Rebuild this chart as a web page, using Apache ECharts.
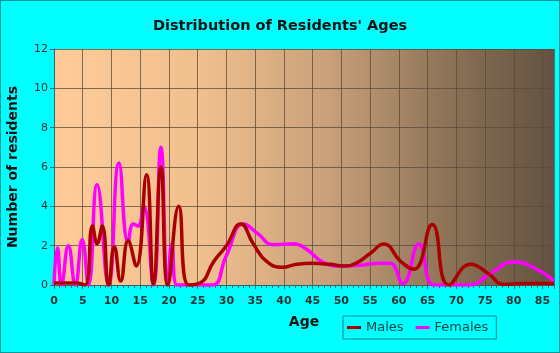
<!DOCTYPE html>
<html>
<head>
<meta charset="utf-8">
<script src="https://cdn.jsdelivr.net/npm/echarts@6/dist/echarts.min.js"></script>
<style>
  html, body { margin: 0; padding: 0; background: #00ffff; }
  #main { width: 558px; height: 351px; border: 1px solid #009999; }
</style>
</head>
<body>
<div id="main"></div>
<script>
// ages (years) and number of residents at each
var maleAges = [0, 2, 4, 5.4, 6.7, 7.5, 8.4, 9.5, 10.5, 11.6, 12.9, 14.3, 16.1, 17.3, 18.6, 19.8, 21.7, 23.4, 25.4, 27.8, 30, 32.5, 34.7, 37, 39.7, 42.3, 45, 48, 50.4, 52.5, 55, 57.4, 60.3, 62.6, 65.8, 68.7, 72.5, 75.5, 78.3, 82, 87];
var maleValues = [0.1, 0.1, 0.1, 0, 3.0, 2.1, 3.0, 0, 1.95, 0.2, 2.25, 0.97, 5.6, 0.05, 6.0, 0, 4.0, 0, 0.1, 1.2, 2.0, 3.1, 2.08, 1.2, 0.9, 1.06, 1.1, 1.05, 0.97, 1.1, 1.6, 2.08, 1.2, 0.8, 3.07, 0, 1.06, 0.6, 0.03, 0.08, 0.08];

var femaleAges = [0, 0.6, 1.3, 2.5, 3.7, 4.9, 6, 7.5, 9.5, 11.3, 12.9, 13.8, 14.6, 15.6, 17.3, 18.6, 19.8, 20.5, 21.4, 24, 27.5, 30, 33, 35.5, 38.2, 41.7, 44, 46.9, 49.8, 53, 56.5, 58.5, 60.7, 63.5, 66.1, 69, 72.2, 76, 80, 84, 87];
var femaleValues = [0, 1.9, 0, 2.0, 0, 2.3, 0, 5.1, 0, 6.2, 2.2, 3.1, 3.0, 4.0, 0, 7.0, 0, 2.1, 0, 0, 0, 1.5, 3.1, 2.6, 2.05, 2.1, 1.8, 1.14, 0.97, 1.0, 1.1, 1.1, 0.07, 2.08, 0, 0, 0, 0.6, 1.17, 0.8, 0.2];

var seriesNames = ['Males', 'Females'];
var seriesColors = ['#aa0000', '#ff00ff'];

function pairs(xs, ys) {
  var out = [];
  for (var i = 0; i < xs.length; i++) {
    out.push([xs[i], ys[i]]);
  }
  return out;
}

var chart = echarts.init(document.getElementById('main'));

var option = {
  backgroundColor: '#00ffff',
  animation: false,
  title: {
    text: "Distribution of Residents' Ages",
    left: 'center',
    top: 13,
    textStyle: {
      fontFamily: 'DejaVu Sans',
      fontSize: 14.5,
      fontWeight: 'bold',
      color: '#111'
    }
  },
  legend: {
    data: seriesNames,
    left: 342,
    top: 315,
    orient: 'horizontal',
    borderColor: '#008888',
    borderWidth: 1,
    padding: [5, 8, 5, 4],
    itemGap: 12,
    itemWidth: 14,
    itemHeight: 3,
    icon: 'rect',
    textStyle: {
      fontFamily: 'DejaVu Sans',
      fontSize: 13,
      color: '#004444'
    }
  },
  grid: {
    left: 53,
    right: 5,
    top: 48,
    bottom: 67,
    outerBoundsMode: 'none',
    containLabel: false,
    show: true,
    borderWidth: 0,
    backgroundColor: new echarts.graphic.LinearGradient(0, 0, 1, 0, [
      { offset: 0, color: '#ffcc99' },
      { offset: 0.3, color: '#f0bf8e' },
      { offset: 0.55, color: '#c8a07a' },
      { offset: 0.8, color: '#8a7055' },
      { offset: 1, color: '#625240' }
    ])
  },
  xAxis: {
    type: 'value',
    min: 0,
    max: 87,
    interval: 5,
    name: 'Age',
    nameLocation: 'middle',
    nameGap: 30,
    nameTextStyle: {
      fontFamily: 'DejaVu Sans',
      fontSize: 14,
      fontWeight: 'bold',
      color: '#111'
    },
    axisLine: { show: true, lineStyle: { color: '#336666', width: 1 } },
    axisTick: { show: true, length: 4, lineStyle: { color: '#336666' } },
    minorTick: { show: true, splitNumber: 5, length: 3, lineStyle: { color: '#336666' } },
    axisLabel: {
      showMaxLabel: false,
      margin: 11,
      fontFamily: 'DejaVu Sans',
      fontSize: 11,
      fontWeight: 'bold',
      color: '#223333'
    },
    splitLine: { show: true, lineStyle: { color: '#5a4a3a', width: 1, opacity: 0.75 } }
  },
  yAxis: {
    type: 'value',
    min: 0,
    max: 12,
    interval: 2,
    name: 'Number of residents',
    nameLocation: 'middle',
    nameGap: 34,
    nameTextStyle: {
      fontFamily: 'DejaVu Sans',
      fontSize: 14,
      fontWeight: 'bold',
      color: '#111'
    },
    axisLine: { show: true, lineStyle: { color: '#336666', width: 1 } },
    axisTick: { show: true, length: 4, lineStyle: { color: '#336666' } },
    axisLabel: {
      margin: 6,
      fontFamily: 'DejaVu Sans',
      fontSize: 11,
      color: '#223333'
    },
    splitLine: { show: true, lineStyle: { color: '#5a4a3a', width: 1, opacity: 0.75 } }
  },
  series: [
    {
      name: seriesNames[0],
      type: 'line',
      smooth: 0.5,
      showSymbol: false,
      data: pairs(maleAges, maleValues),
      itemStyle: { color: seriesColors[0] },
      lineStyle: { color: seriesColors[0], width: 3.5 },
      z: 3
    },
    {
      name: seriesNames[1],
      type: 'line',
      smooth: 0.5,
      showSymbol: false,
      data: pairs(femaleAges, femaleValues),
      itemStyle: { color: seriesColors[1] },
      lineStyle: { color: seriesColors[1], width: 3.5 },
      z: 2
    }
  ]
};

chart.setOption(option);
</script>
</body>
</html>
